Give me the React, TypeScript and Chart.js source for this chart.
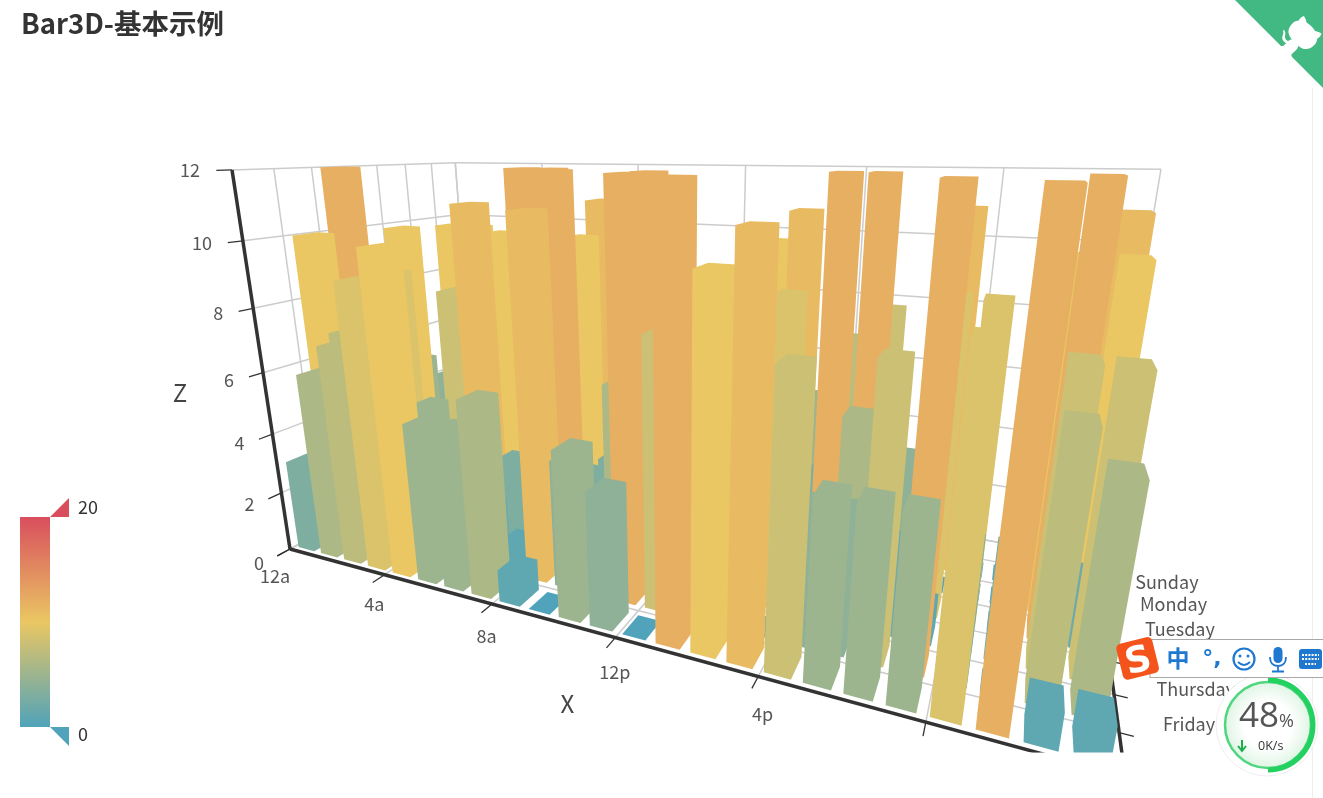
import React, { useEffect, useRef } from "react";
import { Chart, registerables } from "chart.js";

Chart.register(...registerables);

const hours = ["12a","1a","2a","3a","4a","5a","6a","7a","8a","9a","10a","11a","12p","1p","2p","3p","4p","5p","6p","7p","8p","9p","10p","11p"];
const days = ["Saturday","Friday","Thursday","Wednesday","Tuesday","Monday","Sunday"];
const zTicks = [0,2,4,6,8,10,12];

const saturdayValues = [3,6,7,9,10,5,5,6,1,0,5,4,0,12,10,11,8,5,5,5,9,12,1,1];
const fridayValues = [10,7,4,9,5,4,2,1,11,4,3,12,8,1,0,0,4,4,8,12,2,0,7,6];
const thursdayValues = [12,4,3,3,2,11,3,4,12,3,6,12,4,3,1,9,1,6,2,1,3,3,8,8];
const wednesdayValues = [4,10,3,8,4,10,12,12,10,3,4,5,2,3,2,11,12,12,2,9,9,0,12,2];
const tuesdayValues = [5,3,10,10,4,3,4,3,11,4,3,4,3,2,10,3,4,2,4,0,0,0,10,10];
const mondayValues = [4,3,2,4,3,4,2,3,4,2,4,3,4,3,3,5,7,8,2,11,0,0,4,11];
const rows = [saturdayValues, fridayValues, thursdayValues, wednesdayValues, tuesdayValues, mondayValues];

const VMAX = 20;
const ZMAX = 12;
const BAR = 0.7;
const BAR_SPREAD = 0.9955;

// perspective camera: homogeneous projection of the unit box
function project(X: number, Y: number, Z: number) {
  const w = 1 - 0.3618 * X + 0.332 * Y - 0.1303 * Z;
  return {
    x: (290 + 428 * X + 345.3 * Y - 88.2 * Z) / w,
    y: (549 - 53.5 * X + 47.8 * Y - 401.2 * Z) / w,
  };
}

function colorFor(v: number) {
  const t = v / VMAX;
  const a = [80, 163, 186], m = [234, 199, 99], b = [217, 78, 93];
  const [c0, c1, f] = t < 0.5 ? [a, m, t * 2] : [m, b, t * 2 - 1];
  const c = (c0 as number[]).map((q, i) => Math.round(q + ((c1 as number[])[i] - q) * (f as number)));
  return `rgb(${c[0]},${c[1]},${c[2]})`;
}

function hull(pts: { x: number; y: number }[]) {
  const p = [...pts].sort((a, b) => a.x - b.x || a.y - b.y);
  const cross = (o: any, a: any, b: any) => (a.x - o.x) * (b.y - o.y) - (a.y - o.y) * (b.x - o.x);
  const lo: any[] = [];
  for (const q of p) {
    while (lo.length >= 2 && cross(lo[lo.length - 2], lo[lo.length - 1], q) <= 0) lo.pop();
    lo.push(q);
  }
  const up: any[] = [];
  for (const q of p.reverse()) {
    while (up.length >= 2 && cross(up[up.length - 2], up[up.length - 1], q) <= 0) up.pop();
    up.push(q);
  }
  return lo.slice(0, -1).concat(up.slice(0, -1));
}

const scene = {
  id: "scene3d",
  beforeDatasetsDraw(chart: any) {
    const { ctx, scales } = chart;
    const sx = (v: number) => scales.x.getPixelForValue(v);
    const sy = (v: number) => scales.y.getPixelForValue(v);
    const P = (X: number, Y: number, Z: number) => {
      const p = project(X, Y, Z);
      return { x: sx(p.x), y: sy(p.y) };
    };
    const seg = (a: any, b: any, color: string, width: number) => {
      ctx.beginPath();
      ctx.moveTo(a.x, a.y);
      ctx.lineTo(b.x, b.y);
      ctx.strokeStyle = color;
      ctx.lineWidth = width;
      ctx.stroke();
    };
    const labelFont = '18px "Noto Sans CJK SC", "Noto Sans", sans-serif';
    const nameFont = '24px "Noto Sans CJK SC", "Noto Sans", sans-serif';
    const txt = (s: string, x: number, y: number, font: string, color: string, align: CanvasTextAlign) => {
      ctx.font = font;
      ctx.fillStyle = color;
      ctx.textAlign = align;
      ctx.textBaseline = "middle";
      ctx.fillText(s, x, y);
    };

    ctx.save();
    ctx.beginPath();
    ctx.rect(0, 0, chart.width, sy(752.5));
    ctx.clip();

    const grid = "#cccccc";
    const xStep = 4;
    // walls and floor
    for (let t = 0; t <= hours.length; t += xStep) {
      const X = t / hours.length;
      seg(P(X, 0, 0), P(X, 1, 0), grid, 1.5);
      seg(P(X, 1, 0), P(X, 1, 1), grid, 1.5);
    }
    for (let d = 0; d <= days.length; d++) {
      const Y = d / days.length;
      seg(P(0, Y, 0), P(1, Y, 0), grid, 1.5);
      seg(P(0, Y, 0), P(0, Y, 1), grid, 1.5);
    }
    for (const z of zTicks) {
      const Z = z / ZMAX;
      seg(P(0, 0, Z), P(0, 1, Z), grid, 1.5);
      seg(P(0, 1, Z), P(1, 1, Z), grid, 1.5);
    }

    // y axis behind the bars
    seg(P(1, 0, 0), P(1, 1, 0), "#333333", 3.5);
    for (let d = 0; d <= days.length; d++) {
      const Y = d / days.length;
      seg(P(1, Y, 0), P(1.012, Y, 0), "#333333", 1.3);
    }

    // bars, far to near
    const m = (1 - BAR) / 2;
    chart.data.datasets
      .map((ds: any, i: number) => ({ ds, i }))
      .reverse()
      .forEach(({ ds }: any) => {
        ds.data.forEach((d: any) => {
          const corners: any[] = [];
          for (const a of [d.hour + m, d.hour + 1 - m])
            for (const b of [d.day + m, d.day + 1 - m])
              for (const c of [0, d.value])
                corners.push(P((a / hours.length) * BAR_SPREAD, b / days.length, c / ZMAX));
          const h = hull(corners);
          ctx.beginPath();
          h.forEach((q: any, k: number) => (k ? ctx.lineTo(q.x, q.y) : ctx.moveTo(q.x, q.y)));
          ctx.closePath();
          ctx.fillStyle = colorFor(d.value);
          ctx.fill();
        });
      });

    // front axes
    seg(P(0, 0, 0), P(1, 0, 0), "#333333", 3.5);
    seg(P(0, 0, 0), P(0, 0, 1), "#333333", 3.5);
    for (let t = 0; t <= hours.length; t += xStep) {
      const X = t / hours.length;
      seg(P(X, 0, 0), P(X, -0.05, 0), "#333333", 1.3);
    }
    for (const z of zTicks) {
      const Z = z / ZMAX;
      seg(P(0, 0, Z), P(0, -0.05, Z), "#333333", 1.3);
    }

    // axis labels
    const lab = "#555555";
    for (let t = 0; t < hours.length; t += xStep) {
      const X = t / hours.length;
      const p = P(X, 0, 0);
      txt(hours[t], p.x - 15 + 29 * X, p.y + 27 + 16 * X, labelFont, lab, "center");
    }
    for (const z of zTicks) {
      const Z = z / ZMAX;
      const p = P(0, 0, Z);
      txt(String(z), p.x - 26 - 6 * Z, p.y + 14 - 14 * Z, labelFont, lab, "right");
    }
    days.forEach((name, d) => {
      const Y = (d + 0.5) / days.length;
      const p = P(1, Y, 0);
      txt(name, p.x + 49 - 12 * Y, p.y + 11.5, labelFont, lab, "left");
    });
    const zn = P(0, 0, 0.5);
    txt("Z", zn.x - 83, zn.y + 20, nameFont, "#444444", "center");
    const xn = P(0.5, 0, 0);
    txt("X", xn.x - 48, xn.y + 66, nameFont, "#444444", "center");
    ctx.restore();

    // visual map
    const top = sy(517), bot = sy(727), l = sx(20), r = sx(50);
    const g = ctx.createLinearGradient(0, top, 0, bot);
    g.addColorStop(0, colorFor(VMAX));
    g.addColorStop(0.5, colorFor(VMAX / 2));
    g.addColorStop(1, colorFor(0));
    ctx.fillStyle = g;
    ctx.fillRect(l, top, r - l, bot - top);
    ctx.fillStyle = colorFor(VMAX);
    ctx.beginPath();
    ctx.moveTo(r, top);
    ctx.lineTo(r + 19, top - 19);
    ctx.lineTo(r + 19, top);
    ctx.closePath();
    ctx.fill();
    ctx.fillStyle = colorFor(0);
    ctx.beginPath();
    ctx.moveTo(r, bot);
    ctx.lineTo(r + 19, bot + 19);
    ctx.lineTo(r + 19, bot);
    ctx.closePath();
    ctx.fill();
    txt(String(VMAX), r + 28, top - 10, labelFont, "#333333", "left");
    txt("0", r + 28, bot + 7, labelFont, "#333333", "left");
  },
};

function Corner() {
  return (
    <svg width={100} height={100} viewBox="0 0 250 250" style={{ position: "absolute", left: 1235, top: 0, fill: "#42b983", color: "#fff" }}>
      <path d="M0,0 L115,115 L130,115 L142,142 L250,250 L250,0 Z" />
      <path d="M128.3,109.0 C113.8,99.7 119.0,89.6 119.0,89.6 C122.0,82.7 120.5,78.6 120.5,78.6 C119.2,72.0 123.4,76.3 123.4,76.3 C127.3,80.9 125.5,87.3 125.5,87.3 C122.9,97.6 130.6,101.9 134.4,103.2" fill="currentColor" />
      <path d="M115.0,115.0 C114.9,115.1 118.7,116.5 119.8,115.4 L133.7,101.6 C136.9,99.2 139.9,98.4 142.2,98.6 C133.8,88.0 127.5,74.4 143.8,58.0 C148.5,53.4 154.0,51.2 159.7,51.0 C160.3,49.4 163.2,43.6 171.4,40.1 C171.4,40.1 176.1,42.5 178.8,56.2 C183.1,58.6 187.2,61.8 190.9,65.4 C194.5,69.0 197.7,73.2 200.1,77.6 C213.8,80.2 216.3,84.9 216.3,84.9 C212.7,93.1 206.9,96.0 205.4,96.6 C205.1,102.4 203.0,107.8 198.3,112.5 C181.9,128.9 168.3,122.5 157.7,114.1 C157.9,116.9 156.7,120.9 152.7,124.9 L141.0,136.5 C139.8,137.7 141.6,141.9 141.8,141.8 Z" fill="currentColor" />
    </svg>
  );
}

function Widget() {
  return (
    <svg width={120} height={120} style={{ position: "absolute", left: 1207, top: 665 }}>
      <defs>
        <radialGradient id="wg" cx="50%" cy="50%" r="50%">
          <stop offset="55%" stopColor="#ffffff" />
          <stop offset="100%" stopColor="#dff5e4" />
        </radialGradient>
      </defs>
      <circle cx={60} cy={60} r={51} fill="#ffffff" stroke="#eeeeee" strokeWidth={1} />
      <circle cx={61} cy={60} r={43} fill="url(#wg)" stroke="#4fd67f" strokeWidth={2.5} />
      <path d="M61 15 A45 45 0 0 1 61 105" fill="none" stroke="#22d160" strokeWidth={5} />
      <text x={32} y={62} fontSize={35} fill="#555" fontFamily="'Open Sans'">48</text>
      <text x={72} y={62} fontSize={18} fill="#555" fontFamily="'Open Sans'">%</text>
      <path d="M35 75 V85 M31 81 L35 86 L39 81" stroke="#1dae4a" strokeWidth={2} fill="none" />
      <text x={51} y={85} fontSize={12.5} fill="#333" fontFamily="'Open Sans'">0K/s</text>
    </svg>
  );
}

function Ime() {
  const blue = "#1e78d0";
  return (
    <svg width={210} height={46} style={{ position: "absolute", left: 1113, top: 635 }}>
      <rect x={37} y={4.5} width={180} height={38} fill="#ffffff" stroke="#a8a8a8" strokeWidth={1} />
      <g transform="rotate(-14 24 23)">
        <rect x={6} y={5} width={37} height={37} rx={5} fill="#f4541c" />
        <text x={24.5} y={37} textAnchor="middle" fontSize={36} fontWeight={900} fill="#ffffff" fontFamily="'DejaVu Sans'">S</text>
      </g>
      <text x={65} y={32} textAnchor="middle" fontSize={23} fontWeight={700} fill={blue} fontFamily="'Noto Sans CJK SC'">中</text>
      <text x={99} y={30} textAnchor="middle" fontSize={22} fontWeight={700} fill={blue} fontFamily="'DejaVu Sans'">°,</text>
      <circle cx={131} cy={24} r={10.5} fill="none" stroke={blue} strokeWidth={2.2} />
      <circle cx={127} cy={21} r={1.5} fill={blue} />
      <circle cx={135} cy={21} r={1.5} fill={blue} />
      <path d="M125 27 Q131 33 137 27" stroke={blue} strokeWidth={1.8} fill="none" />
      <rect x={160.5} y={12} width={9} height={16} rx={4.5} fill={blue} />
      <path d="M157 22 Q157 31 165 31 Q173 31 173 22 M165 31 V36 M159 36.5 H171" stroke={blue} strokeWidth={1.8} fill="none" />
      <rect x={186} y={14} width={23} height={20} rx={3} fill={blue} />
      <path d="M189 20 H206 M189 24 H206 M192 29 H203" stroke="#fff" strokeWidth={1.8} strokeDasharray="2 1.2" />
    </svg>
  );
}

export default function App() {
  const ref = useRef<HTMLCanvasElement | null>(null);
  useEffect(() => {
    document.body.style.margin = "0";
    const canvas = ref.current!;
    const chart = new Chart(canvas, {
      type: "scatter",
      data: {
        datasets: rows.map((values, day) => ({
          label: days[day],
          pointRadius: 0,
          data: values.map((value, hour) => {
            const p = project((hour + 0.5) / hours.length, (day + 0.5) / days.length, value / ZMAX);
            return { x: p.x, y: p.y, hour, day, value };
          }),
        })),
      },
      options: {
        responsive: false,
        animation: false,
        devicePixelRatio: 1,
        layout: { padding: 0 },
        scales: {
          x: { type: "linear", min: 0, max: 1323, display: false },
          y: { type: "linear", min: 0, max: 798, reverse: true, display: false },
        },
        plugins: { legend: { display: false }, tooltip: { enabled: false } },
      } as any,
      plugins: [scene as any],
    });
    return () => chart.destroy();
  }, []);
  return (
    <div style={{ position: "relative", width: 1323, height: 798, overflow: "hidden", background: "#fff" }}>
      <canvas ref={ref} width={1323} height={798} style={{ position: "absolute", left: 0, top: 0, width: 1323, height: 798 }} />
      <div style={{ position: "absolute", left: 1312, top: 88, width: 1, height: 710, background: "#eeeeee" }} />
      <div style={{ position: "absolute", left: 21, top: 2, font: 'bold 27.5px "Noto Sans CJK SC", sans-serif', color: "#333", whiteSpace: "nowrap", lineHeight: "40px" }}>Bar3D-基本示例</div>
      <Corner />
      <Widget />
      <Ime />
    </div>
  );
}
